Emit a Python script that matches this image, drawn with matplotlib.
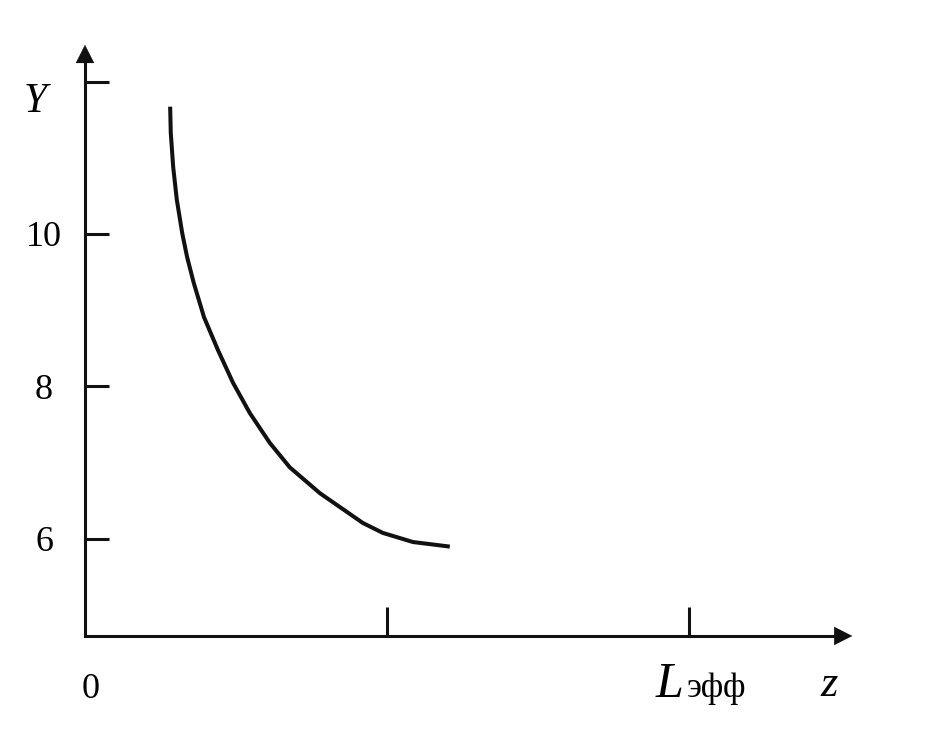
import matplotlib
matplotlib.use("Agg")
import matplotlib.pyplot as plt

# ---- data ----
z_vals = [0.141, 0.142, 0.146, 0.152, 0.161, 0.169, 0.180, 0.197, 0.220,
          0.245, 0.273, 0.306, 0.339, 0.389, 0.460, 0.493, 0.543, 0.604]
y_vals = [11.67, 11.33, 10.88, 10.45, 10.01, 9.70, 9.36, 8.91, 8.48,
          8.05, 7.65, 7.26, 6.94, 6.60, 6.21, 6.08, 5.96, 5.90]
y_ticks = [6, 8, 10, 12]
y_tick_labels = ["6", "8", "10", ""]
x_ticks = [0.5, 1.0]
x_tick_labels = ["", ""]

plt.rcParams['font.family'] = ['Liberation Serif', 'DejaVu Serif']

fig = plt.figure(figsize=(9.27, 7.45), dpi=100)
ax = fig.add_axes([0, 0, 1, 1])
ax.set_xlim(-0.1407, 1.394)
ax.set_ylim(3.298, 13.069)
ax.patch.set_alpha(0)

y0 = 4.728
ytip = 12.518
xtip = 1.275

for s in ['top', 'right']:
    ax.spines[s].set_visible(False)
ax.spines['left'].set_position(('data', 0))
ax.spines['bottom'].set_position(('data', y0))
ax.spines['left'].set_bounds(y0, ytip - 0.1)
ax.spines['bottom'].set_bounds(0, xtip - 0.02)
for s in ['left', 'bottom']:
    ax.spines[s].set_linewidth(2.2)
    ax.spines[s].set_color('#111111')

# arrow heads
ax.annotate('', xy=(0, ytip), xytext=(0, ytip - 0.3),
            arrowprops=dict(arrowstyle='-|>,head_length=0.65,head_width=0.33',
                            mutation_scale=20, color='#111111', lw=0.1))
ax.annotate('', xy=(xtip, y0), xytext=(xtip - 0.04, y0),
            arrowprops=dict(arrowstyle='-|>,head_length=0.65,head_width=0.33',
                            mutation_scale=20, color='#111111', lw=0.1))

ax.set_yticks(y_ticks)
ax.set_yticklabels(y_tick_labels)
ax.set_xticks(x_ticks)
ax.set_xticklabels(x_tick_labels)
ax.tick_params(axis='y', direction='in', length=17, width=2.2, color='#111111',
               pad=29.5, labelsize=26)
for lbl in ax.get_yticklabels():
    lbl.set_horizontalalignment('center')
ax.tick_params(axis='x', direction='in', length=21, width=2.2, color='#111111')

ax.plot(z_vals, y_vals, color='#111111', lw=2.9, solid_capstyle='butt',
        solid_joinstyle='round')

# axis texts
ax.text(-0.083, 11.74, 'Y', fontsize=30, style='italic', ha='center', va='center')
ax.text(0.009, 4.02, '0', fontsize=26, ha='center', va='center')
ax.text(1.232, 3.94, 'z', fontsize=32, style='italic', ha='center', va='baseline')
ax.text(0.944, 3.93, 'L', fontsize=36, style='italic', ha='left', va='baseline')
ax.text(0.996, 3.93, 'эфф', fontsize=25, ha='left', va='baseline')

fig.savefig('out.png', dpi=100)
